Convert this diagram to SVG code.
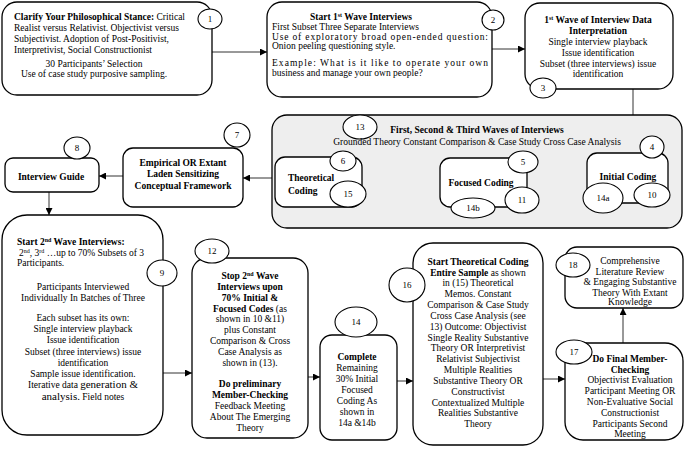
<svg xmlns="http://www.w3.org/2000/svg" width="685" height="449" viewBox="0 0 685 449">
<defs>
<marker id="ah" viewBox="0 0 10 10" refX="10" refY="5" markerWidth="7" markerHeight="7" orient="auto" markerUnits="userSpaceOnUse">
<path d="M0,0 L10,5 L0,10 z" fill="#000"/>
</marker>
<style>
.box{fill:#fff;stroke:#000;stroke-width:1.3}
.grey{fill:#eeeeee;stroke:#000;stroke-width:1.3}
.num{fill:#fff;stroke:#000;stroke-width:1.1}
text{font-family:"Liberation Serif","Times New Roman",serif;font-size:9.5px;fill:#000}
.c{text-anchor:middle}
.b{font-weight:bold}
.n{font-size:9px;text-anchor:middle}
.con{stroke:#333;stroke-width:1;fill:none;marker-end:url(#ah)}
</style>
</defs>
<rect width="685" height="449" fill="#fff"/>

<g id="connectors">
<line class="con" x1="211" y1="52" x2="267" y2="52"/>
<line class="con" x1="492" y1="49" x2="525" y2="49"/>
<line class="con" x1="633" y1="89" x2="633" y2="153"/>
<line class="con" x1="587" y1="181" x2="527" y2="181"/>
<line class="con" x1="440" y1="181" x2="362" y2="181"/>
<line class="con" x1="275" y1="178" x2="243" y2="178"/>
<line class="con" x1="123" y1="176" x2="99" y2="176"/>
<line class="con" x1="49" y1="192" x2="49" y2="215"/>
<line class="con" x1="163" y1="373" x2="192" y2="373"/>
<line class="con" x1="308" y1="377" x2="320" y2="377"/>
<line class="con" x1="397" y1="381" x2="413" y2="381"/>
<line class="con" x1="543" y1="379" x2="565" y2="379"/>
<line class="con" x1="623" y1="343" x2="623" y2="308"/>
</g>

<g id="node1">
<rect class="box" x="2" y="2" width="210" height="93" rx="15"/>
<ellipse class="num" cx="210" cy="19" rx="12" ry="10"/>
<text class="n" x="210" y="22">1</text>
<text x="14" y="19.5"><tspan class="b">Clarify Your Philosophical Stance:</tspan> Critical</text>
<text x="14" y="31">Realist versus Relativist. Objectivist versus</text>
<text x="14" y="42">Subjectivist. Adoption of Post-Positivist,</text>
<text x="14" y="53">Interpretivist, Social Constructionist</text>
<text class="c" x="94" y="66.5">30 Participants’ Selection</text>
<text class="c" x="94" y="76.5">Use of case study purposive sampling.</text>
</g>

<g id="node2">
<rect class="box" x="267" y="2" width="225" height="95" rx="15"/>
<ellipse class="num" cx="493" cy="20" rx="11" ry="10"/>
<text class="n" x="493" y="23">2</text>
<text class="c b" x="361" y="19.5">Start 1<tspan font-size="6" dy="-3">st</tspan><tspan dy="3"> Wave Interviews</tspan></text>
<text x="272" y="29.5">First Subset Three Separate Interviews</text>
<text x="272" y="39.5" textLength="216" lengthAdjust="spacing">Use of exploratory broad open-ended question:</text>
<text x="272" y="48.5">Onion peeling questioning style.</text>
<text x="272" y="65.5" textLength="216" lengthAdjust="spacing">Example: What is it like to operate your own</text>
<text x="272" y="75.5">business and manage your own people?</text>
</g>

<g id="node3">
<rect class="box" x="525" y="3" width="148" height="86" rx="15"/>
<ellipse class="num" cx="543" cy="88" rx="13" ry="10"/>
<text class="n" x="543" y="91">3</text>
<text class="c b" x="598" y="22.5">1<tspan font-size="6" dy="-3">st</tspan><tspan dy="3"> Wave of Interview Data</tspan></text>
<text class="c b" x="598" y="33.5">Interpretation</text>
<text class="c" x="598" y="44.5">Single interview playback</text>
<text class="c" x="598" y="55.5">Issue identification</text>
<text class="c" x="598" y="66.5">Subset (three interviews) issue</text>
<text class="c" x="598" y="76.5">identification</text>
</g>

<g id="node13">
<rect class="grey" x="272" y="115" width="410" height="113" rx="15"/>
<ellipse class="num" cx="360" cy="127" rx="17" ry="12"/>
<text class="n" x="360" y="130">13</text>
<text class="c b" x="477" y="132.5">First, Second &amp; Third Waves of Interviews</text>
<text class="c" x="477" y="144.5">Grounded Theory Constant Comparison &amp; Case Study Cross Case Analysis</text>
</g>

<g id="node6">
<rect class="box" x="275" y="157" width="87" height="50" rx="10"/>
<ellipse class="num" cx="343" cy="161" rx="13" ry="10"/>
<text class="n" x="343" y="164">6</text>
<ellipse class="num" cx="348" cy="194" rx="18" ry="13"/>
<text class="n" x="348" y="197">15</text>
<text class="b" x="288" y="180.5">Theoretical</text>
<text class="b" x="288" y="193.5">Coding</text>
</g>

<g id="node5">
<rect class="box" x="440" y="158" width="87" height="49" rx="10"/>
<ellipse class="num" cx="523" cy="162" rx="15" ry="11"/>
<text class="n" x="523" y="165">5</text>
<ellipse class="num" cx="522" cy="200" rx="17" ry="13"/>
<text class="n" x="522" y="203">11</text>
<ellipse class="num" cx="473" cy="208" rx="22" ry="10"/>
<text class="n" x="473" y="211">14b</text>
<text class="c b" x="481" y="185.5">Focused Coding</text>
</g>

<g id="node4">
<rect class="box" x="587" y="153" width="81" height="50" rx="10"/>
<ellipse class="num" cx="652" cy="147" rx="12" ry="11"/>
<text class="n" x="652" y="150">4</text>
<ellipse class="num" cx="603" cy="198" rx="20" ry="15"/>
<text class="n" x="603" y="201">14a</text>
<ellipse class="num" cx="652" cy="195" rx="18" ry="12"/>
<text class="n" x="652" y="198">10</text>
<text class="c b" x="628" y="179.5">Initial Coding</text>
</g>

<g id="node7">
<rect class="box" x="123" y="148" width="120" height="59" rx="10"/>
<ellipse class="num" cx="237" cy="135" rx="13" ry="12"/>
<text class="n" x="237" y="138">7</text>
<text class="c b" x="183" y="165.5">Empirical OR Extant</text>
<text class="c b" x="183" y="176.5">Laden Sensitizing</text>
<text class="c b" x="183" y="188.5">Conceptual Framework</text>
</g>

<g id="node8">
<rect class="box" x="5" y="158" width="94" height="34" rx="8"/>
<ellipse class="num" cx="77" cy="148" rx="13" ry="11"/>
<text class="n" x="77" y="151">8</text>
<text class="c b" x="51" y="179.5">Interview Guide</text>
</g>

<g id="node9">
<rect class="box" x="2" y="215" width="161" height="220" rx="25"/>
<ellipse class="num" cx="162" cy="273" rx="15" ry="13"/>
<text class="n" x="162" y="276">9</text>
<text class="b" x="17" y="245">Start 2<tspan font-size="6" dy="-3">nd</tspan><tspan dy="3"> Wave Interviews:</tspan></text>
<text x="19" y="256">2<tspan font-size="6" dy="-3">nd</tspan><tspan dy="3">, 3</tspan><tspan font-size="6" dy="-3">rd</tspan><tspan dy="3"> …up to 70% Subsets of 3</tspan></text>
<text x="17" y="266">Participants.</text>
<text class="c" x="83" y="289.5">Participants Interviewed</text>
<text class="c" x="83" y="300.5">Individually In Batches of Three</text>
<text class="c" x="83" y="320.5">Each subset has its own:</text>
<text class="c" x="83" y="331.5">Single interview playback</text>
<text class="c" x="83" y="342.5">Issue identification</text>
<text class="c" x="83" y="354.5">Subset (three interviews) issue</text>
<text class="c" x="83" y="365.5">identification</text>
<text class="c" x="83" y="376.5">Sample issue identification.</text>
<text class="c" x="83" y="387.5">Iterative data <tspan font-size="11">generation &amp;</tspan></text>
<text class="c" x="83" y="399.5"><tspan font-size="11">analysis.</tspan> Field notes</text>
</g>

<g id="node12">
<rect class="box" x="192" y="258" width="116" height="180" rx="15"/>
<ellipse class="num" cx="212" cy="251" rx="17" ry="12"/>
<text class="n" x="212" y="254">12</text>
<text class="c b" x="250" y="278.5">Stop 2<tspan font-size="6" dy="-3">nd</tspan><tspan dy="3"> Wave</tspan></text>
<text class="c b" x="250" y="289.5">Interviews upon</text>
<text class="c b" x="250" y="300.5">70% Initial &amp;</text>
<text class="c" x="250" y="311.5"><tspan class="b">Focused Codes</tspan> (as</text>
<text class="c" x="250" y="321.5">shown in 10 &amp;11)</text>
<text class="c" x="250" y="332.5">plus Constant</text>
<text class="c" x="250" y="343.5">Comparison &amp; Cross</text>
<text class="c" x="250" y="354.5">Case Analysis as</text>
<text class="c" x="250" y="365.5">shown in (13).</text>
<text class="c b" x="250" y="386.5">Do preliminary</text>
<text class="c b" x="250" y="398">Member-Checking</text>
<text class="c" x="250" y="409">Feedback Meeting</text>
<text class="c" x="250" y="420">About The Emerging</text>
<text class="c" x="250" y="430.5">Theory</text>
</g>

<g id="node14">
<rect class="box" x="320" y="335" width="77" height="105" rx="12"/>
<ellipse class="num" cx="356" cy="322" rx="21" ry="15"/>
<text class="n" x="356" y="325">14</text>
<text class="c b" x="357" y="359.5">Complete</text>
<text class="c" x="357" y="370.5">Remaining</text>
<text class="c" x="357" y="381.5">30% Initial</text>
<text class="c" x="357" y="392.5">Focused</text>
<text class="c" x="357" y="403.5">Coding As</text>
<text class="c" x="357" y="414.5">shown in</text>
<text class="c" x="357" y="425.5">14a &amp;14b</text>
</g>

<g id="node16">
<rect class="box" x="413" y="243" width="130" height="202" rx="20"/>
<ellipse class="num" cx="407" cy="285" rx="18" ry="17"/>
<text class="n" x="407" y="288">16</text>
<text class="c b" x="478" y="264.5">Start Theoretical Coding</text>
<text class="c" x="478" y="275.5"><tspan class="b">Entire Sample</tspan> as shown</text>
<text class="c" x="478" y="285.5">in (15) Theoretical</text>
<text class="c" x="478" y="296.5">Memos. Constant</text>
<text class="c" x="478" y="307.5">Comparison &amp; Case Study</text>
<text class="c" x="478" y="318.5">Cross Case Analysis (see</text>
<text class="c" x="478" y="329.5">13) Outcome:  Objectivist</text>
<text class="c" x="478" y="340.5">Single Reality Substantive</text>
<text class="c" x="478" y="350.5">Theory OR Interpretivist</text>
<text class="c" x="478" y="361.5">Relativist Subjectivist</text>
<text class="c" x="478" y="372.5">Multiple Realities</text>
<text class="c" x="478" y="383.5">Substantive Theory OR</text>
<text class="c" x="478" y="394.5">Constructivist</text>
<text class="c" x="478" y="405.5">Contextualized Multiple</text>
<text class="c" x="478" y="415.5">Realities Substantive</text>
<text class="c" x="478" y="426.5">Theory</text>
</g>

<g id="node18">
<rect class="box" x="565" y="247" width="118" height="61" rx="12"/>
<ellipse class="num" cx="573" cy="265" rx="17" ry="12"/>
<text class="n" x="573" y="268">18</text>
<text class="c" x="630" y="264">Comprehensive</text>
<text class="c" x="630" y="274.5">Literature Review</text>
<text class="c" x="630" y="285">&amp; Engaging Substantive</text>
<text class="c" x="630" y="295.5">Theory With Extant</text>
<text class="c" x="630" y="305">Knowledge</text>
</g>

<g id="node17">
<rect class="box" x="565" y="343" width="118" height="97" rx="18"/>
<ellipse class="num" cx="574" cy="352" rx="18" ry="12"/>
<text class="n" x="574" y="355">17</text>
<text class="c b" x="630" y="361.5">Do Final Member-</text>
<text class="c b" x="630" y="372.5">Checking</text>
<text class="c" x="630" y="382.5">Objectivist Evaluation</text>
<text class="c" x="630" y="393.5">Participant Meeting OR</text>
<text class="c" x="630" y="404.5">Non-Evaluative Social</text>
<text class="c" x="630" y="415.5">Constructionist</text>
<text class="c" x="630" y="426.5">Participants Second</text>
<text class="c" x="630" y="436.5">Meeting</text>
</g>
</svg>
